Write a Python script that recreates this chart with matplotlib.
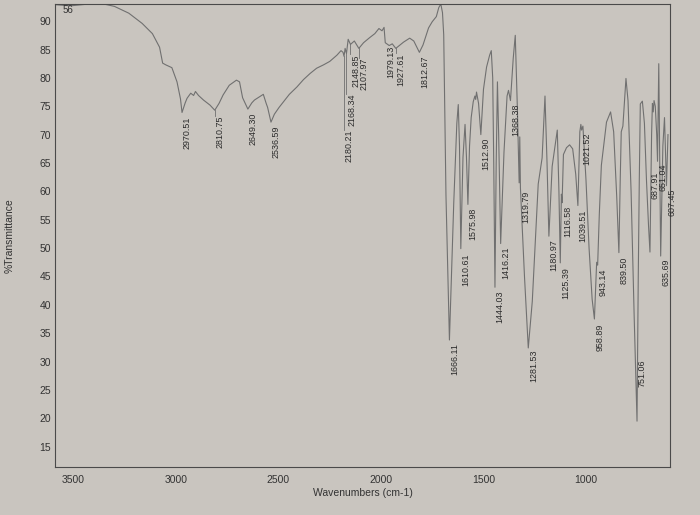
import matplotlib
matplotlib.use("Agg")
import matplotlib.pyplot as plt
import matplotlib.transforms as mtransforms
import numpy as np

# IR spectrum (wavenumber cm-1, %T)
wavenumber = [
    3588, 3515, 3430, 3350, 3300, 3230, 3165, 3115, 3080, 3065, 3050, 3020, 2995, 2978,
    2970.51, 2955, 2946, 2928, 2914, 2905, 2890, 2866, 2834, 2810.75, 2790, 2770, 2740,
    2705, 2690, 2675, 2649.30, 2630, 2617, 2600, 2574, 2560, 2553, 2536.59, 2520, 2497,
    2447, 2410, 2378, 2345, 2314, 2280, 2250, 2215, 2195, 2185, 2180.21, 2175, 2168.34,
    2160, 2148.85, 2130, 2107.97, 2085, 2055, 2030, 2010, 1995, 1985, 1979.13, 1960, 1945,
    1927.61, 1890, 1860, 1840, 1825, 1812.67, 1795, 1768, 1750, 1730, 1718, 1708, 1700,
    1694, 1683, 1666.11, 1645, 1630, 1623, 1617, 1610.61, 1600, 1590, 1583, 1575.98, 1568,
    1560, 1550, 1542, 1538, 1534, 1524, 1512.90, 1500, 1485, 1470, 1462, 1455, 1450,
    1444.03, 1438, 1432, 1426, 1416.21, 1400, 1385, 1378, 1368.38, 1355, 1345, 1335, 1326,
    1323, 1319.79, 1300, 1281.53, 1262, 1233, 1214, 1200, 1190, 1180.97, 1165, 1140, 1132,
    1125.39, 1120, 1116.58, 1110, 1095, 1080, 1065, 1050, 1039.51, 1030, 1025, 1021.52,
    1015, 1000, 985, 970, 958.89, 952, 948, 943.14, 935, 925, 900, 880, 865, 850, 839.50,
    833, 828, 820, 805, 795, 780, 765, 751.06, 745, 740, 735, 725, 715, 705, 695, 687.91,
    680, 676, 672, 668, 662, 655, 651.04, 645, 635.69, 625, 617, 607.45, 600,
]
transmittance = [
    92.9, 92.7, 93.0, 93.0, 92.6, 91.4, 89.6, 87.8, 85.4, 82.6, 82.3, 81.8, 79.3, 76.3,
    73.9, 75.6, 76.4, 77.3, 76.9, 77.6, 76.9, 76.1, 75.2, 74.3, 75.5, 77.0, 78.7,
    79.6, 79.3, 76.5, 74.5, 75.6, 76.1, 76.5, 77.1, 75.5, 74.8, 72.2, 73.6, 74.8,
    77.1, 78.4, 79.7, 80.8, 81.7, 82.3, 82.9, 84.0, 84.8, 84.5, 83.8, 85.2, 84.3,
    86.8, 85.9, 86.5, 85.2, 86.2, 87.1, 87.8, 88.7, 88.3, 88.9, 86.2, 85.7, 86.0,
    85.2, 86.3, 87.0, 86.5, 85.4, 84.5, 85.8, 88.8, 89.9, 90.8, 92.4, 93.0, 91.5,
    87.6, 59.3, 33.8, 58.0, 72.0, 75.3, 68.0, 49.9, 66.0, 71.8, 66.0, 57.7, 68.0,
    73.0, 75.8, 76.8, 76.2, 77.5, 75.5, 70.0, 78.0, 81.9, 84.0, 84.8, 80.0, 65.0,
    43.1, 65.0, 79.3, 70.0, 50.8, 66.9, 76.8, 77.8, 76.0, 83.4, 87.5, 75.0, 61.5,
    69.6, 60.6, 45.0, 32.4, 40.6, 61.3, 65.9, 76.8, 65.0, 52.1, 64.4, 70.8, 60.0,
    47.4, 59.5, 58.0, 66.5, 67.7, 68.2, 67.5, 63.0, 57.5, 70.5, 71.8, 70.8,
    71.5, 62.0, 50.0, 41.0, 37.5, 44.0, 47.5, 47.0, 56.0, 64.6, 72.2, 74.0, 70.5, 59.0, 49.2,
    62.0, 70.5, 71.5, 79.9, 76.0, 60.0, 38.0, 19.5, 45.0, 62.0, 75.4, 75.9, 72.0, 62.0, 54.0, 49.3,
    70.0, 75.5, 74.0, 76.0, 75.0, 70.0, 65.3, 82.5, 48.6, 68.0, 73.0, 61.0, 70.0,
]

# labelled peaks and the %T where each label starts
peaks = [2970.51, 2810.75, 2649.30, 2536.59, 2180.21, 2168.34, 2148.85, 2107.97,
         1979.13, 1927.61, 1812.67, 1666.11, 1610.61, 1575.98, 1512.90, 1444.03,
         1416.21, 1368.38, 1319.79, 1281.53, 1180.97, 1125.39, 1116.58, 1039.51,
         1021.52, 958.89, 943.14, 839.50, 751.06, 687.91, 651.04, 635.69, 607.45]
label_top = [73.2, 73.3, 73.8, 71.6, 70.9, 77.2, 84.2, 83.5,
             85.7, 84.3, 84.0, 33.2, 49.1, 57.2, 69.5, 42.6,
             50.2, 75.4, 60.1, 32.1, 51.6, 46.7, 57.4, 56.7,
             70.3, 36.7, 46.3, 48.5, 30.3, 63.5, 64.9, 48.1, 60.5]

plt.rcParams['font.family'] = ['Liberation Sans', 'DejaVu Sans']
paper = '#c9c5bf'

fig = plt.figure(figsize=(7.0, 5.15), dpi=100, facecolor=paper)
ax = fig.add_axes([0.0786, 0.093, 0.8786, 0.899], facecolor=paper)

ax.plot(wavenumber, transmittance, color='#707070', linewidth=0.8)

# peak labels, vertical text under each minimum
offset = mtransforms.offset_copy(ax.transData, fig=fig, x=0.6, y=0, units='points')
for wn, top in zip(peaks, label_top):
    t_min = np.interp(wn, wavenumber[::-1], transmittance[::-1])
    if top < t_min - 0.8:
        ax.plot([wn, wn], [t_min, top], color='#707070', linewidth=0.6)
    ax.text(wn, top, "%.2f" % wn, rotation=90, ha='left', va='top',
            fontsize=6.4, color='#2b2b2b', transform=offset)

ax.text(0.012, 0.998, "56", transform=ax.transAxes, ha='left', va='top',
        fontsize=7, color='#333333')

ax.set_xlim(3590, 590)
ax.set_ylim(11.4, 93.0)
ax.set_xticks([3500, 3000, 2500, 2000, 1500, 1000])
ax.set_yticks(range(15, 95, 5))
ax.tick_params(axis='both', length=0, labelsize=7.5, colors='#333333')
ax.tick_params(axis='x', pad=6)
ax.tick_params(axis='y', pad=3)

for side in ['left', 'right', 'top', 'bottom']:
    ax.spines[side].set_color('#4a4a4a')
    ax.spines[side].set_linewidth(0.8)

ax.set_xlabel("Wavenumbers (cm-1)", fontsize=7.5, color='#333333', labelpad=2)
ax.set_ylabel("%Transmittance", fontsize=7.5, color='#333333')
ax.yaxis.set_label_coords(-0.066, 0.5)

plt.savefig('out.png', dpi=100, facecolor=paper)
